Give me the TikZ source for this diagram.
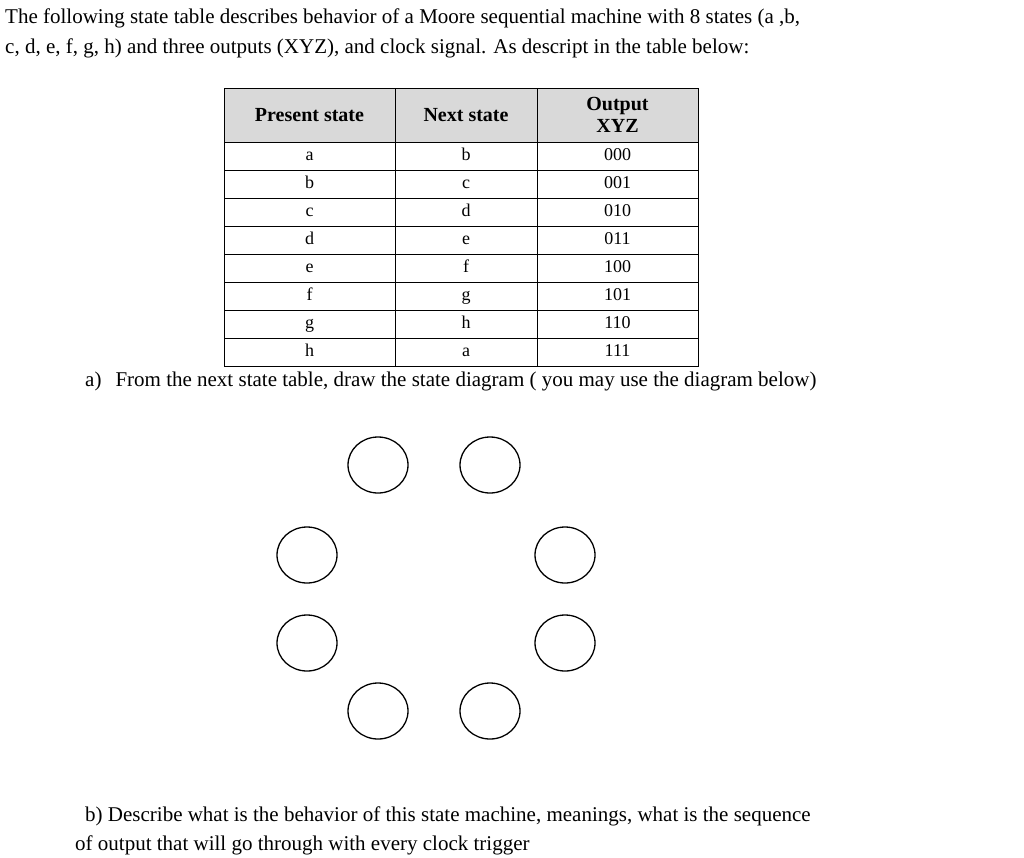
\documentclass[tikz,border=0pt]{standalone}
\usepackage{fontspec}
\setmainfont{Liberation Serif}
\usetikzlibrary{shapes.geometric}
\begin{document}
\begin{tikzpicture}[x=1pt,y=-1pt,
  txt/.style={anchor=west,inner sep=0pt,font=\fontsize{21}{25}\selectfont},
  cell/.style={inner sep=0pt,font=\fontsize{18}{21}\selectfont},
  hcell/.style={inner sep=0pt,align=center,font=\fontsize{20}{22}\selectfont\bfseries},
  st/.style={draw,line width=1.3pt,ellipse,minimum width=60pt,minimum height=56pt,inner sep=0pt}]
\useasboundingbox[fill=white] (0,0) rectangle (1024,857);
\node[txt] (l1) at (5,18) {The following state table describes behavior of a Moore sequential machine with 8 states (a ,b,};
\node[txt] (l2) at (5,48) {c, d, e, f, g, h) and three outputs (XYZ), and clock signal. As descript in the table below:};
% table
\fill[gray!30] (224,88) rectangle (698,142);
\draw[line width=0.8pt] (224,88) rectangle (698,366);
\foreach \y in {142,170,198,226,254,282,310,338} \draw[line width=0.8pt] (224,\y) -- (698,\y);
\draw[line width=0.8pt] (395,88) -- (395,366);
\draw[line width=0.8pt] (537,88) -- (537,366);
\node[hcell] (h1) at (309.5,115) {Present state};
\node[hcell] (h2) at (466,115) {Next state};
\node[hcell] (h3) at (617.5,115) {Output\\XYZ};
\foreach \p/\n/\o [count=\i] in {a/b/000,b/c/001,c/d/010,d/e/011,e/f/100,f/g/101,g/h/110,h/a/111}{
  \node[cell] (p\i) at (309.5,128+28*\i) {\strut\p};
  \node[cell] (n\i) at (466,128+28*\i) {\strut\n};
  \node[cell] (o\i) at (617.5,128+28*\i) {\strut\o};
}
\node[txt] (qa) at (85,381) {a)\hspace{14pt}From the next state table, draw the state diagram ( you may use the diagram below)};
\node[st] (s1) at (378,465) {};
\node[st] (s2) at (490,465) {};
\node[st] (s3) at (307,555) {};
\node[st] (s4) at (565,555) {};
\node[st] (s5) at (307,643) {};
\node[st] (s6) at (565,643) {};
\node[st] (s7) at (378,711) {};
\node[st] (s8) at (490,711) {};
\node[txt] (qb1) at (85,816) {b) Describe what is the behavior of this state machine, meanings, what is the sequence};
\node[txt] (qb2) at (75,845) {of output that will go through with every clock trigger};
\end{tikzpicture}
\end{document}
